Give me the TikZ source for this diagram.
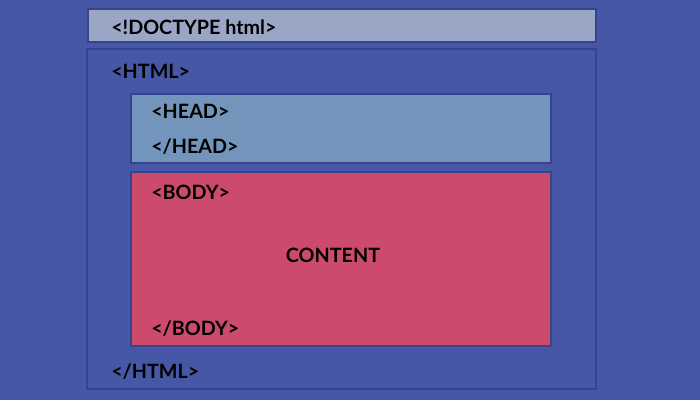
\documentclass[tikz,border=0pt]{standalone}
\usepackage{fontspec}
\setmainfont{Lato}
\definecolor{bg}{HTML}{4657A6}
\definecolor{edge}{HTML}{37438C}
\definecolor{doct}{HTML}{9BA6C6}
\definecolor{headc}{HTML}{7395BB}
\definecolor{bodyc}{HTML}{CC4A6C}
\tikzset{
  box/.style={draw=edge, line width=0.8pt},
  tag/.style={anchor=west, inner sep=0pt, font=\fontsize{14.8pt}{16pt}\selectfont\bfseries, text=black},
}
\begin{document}
\begin{tikzpicture}[x=0.75pt, y=-0.75pt]
\fill[bg] (0,0) rectangle (700,400);
\useasboundingbox (0,0) rectangle (700,400);
\draw[box, fill=doct] (88,9) rectangle (596,42);
\draw[box] (87,49) rectangle (596,389);
\draw[box, fill=headc] (131,94) rectangle (551,163);
\draw[box, fill=bodyc] (131,172) rectangle (551,346);
\node[tag] (doctype) at (111,27) {<!DOCTYPE html>};
\node[tag] (html) at (111,71) {<HTML>};
\node[tag] (head) at (151,111) {<HEAD>};
\node[tag] (ehead) at (151,147) {</HEAD>};
\node[tag] (body) at (151,192) {<BODY>};
\node[tag, anchor=center] (content) at (333,255) {CONTENT};
\node[tag] (ebody) at (151,329) {</BODY>};
\node[tag] (ehtml) at (111,372) {</HTML>};
\end{tikzpicture}
\end{document}
